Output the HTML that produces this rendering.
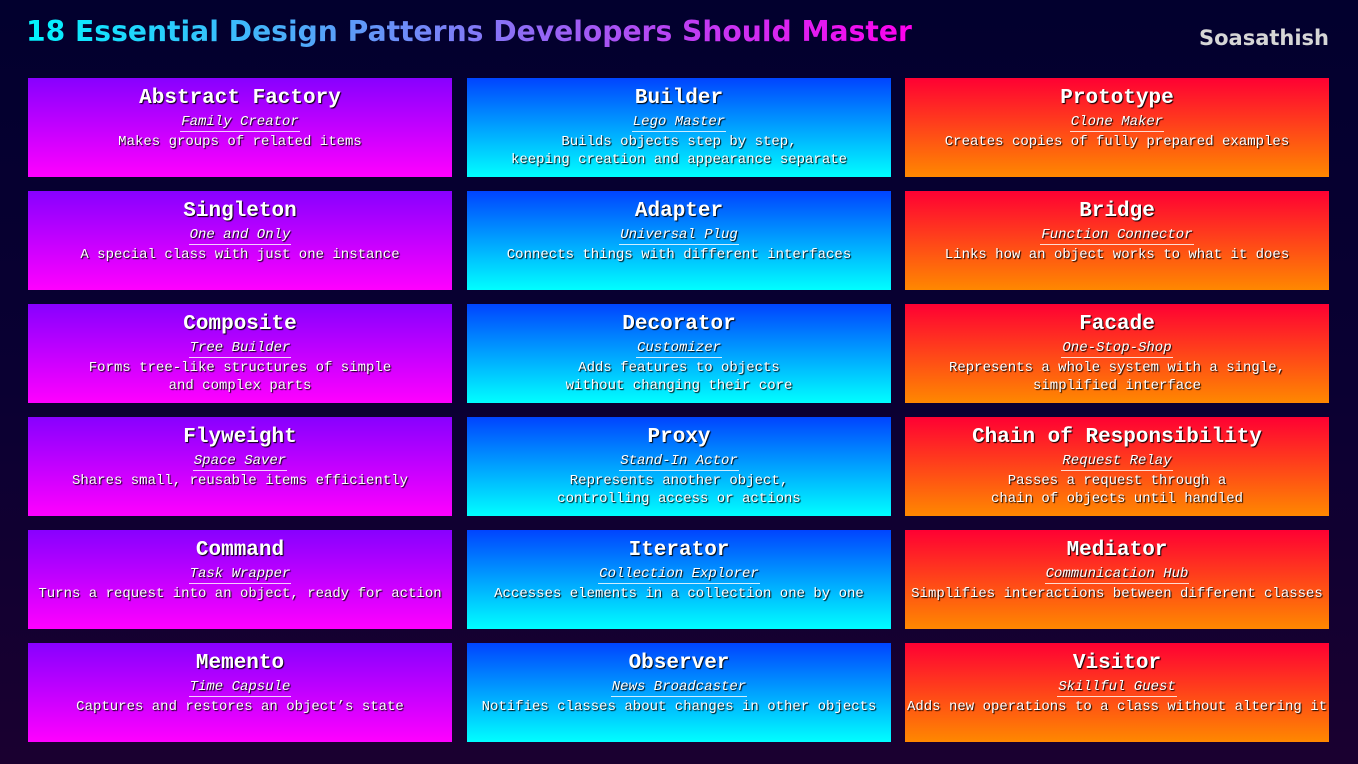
<!DOCTYPE html>
<html><head><meta charset="utf-8"><style>
body{margin:0;width:1358px;height:764px;overflow:hidden;background:linear-gradient(180deg,#02002e 0%,#0a0032 50%,#1a0030 100%);font-family:"Liberation Mono",monospace;position:relative}
h1{position:absolute;left:26px;top:15px;margin:0;font:bold 28.2px "DejaVu Sans",sans-serif;background:linear-gradient(90deg,#00f5ff,#ff00ee);-webkit-background-clip:text;background-clip:text;color:transparent;white-space:nowrap}
.brand{position:absolute;right:29px;top:26px;font:bold 21px "DejaVu Sans",sans-serif;color:#d6d6d6}
.b{position:absolute;width:424px;height:99px;color:#fff;text-align:center;text-shadow:1px 1px 1px #000}
.p{background:linear-gradient(180deg,#8800ff,#ff00ff)}
.u{background:linear-gradient(180deg,#0044ff,#00ffff)}
.r{background:linear-gradient(180deg,#ff0033,#ff8800)}
.t{font-weight:bold;font-size:21px;margin-top:8px;line-height:26px}
.s{font-style:italic;font-size:14px;line-height:17px;display:inline-block;border-bottom:1.5px solid rgba(255,255,255,.8);padding:0 1px;margin-top:1px}
.d{font-size:14px;line-height:18px;margin-top:1px;white-space:nowrap}
</style></head><body>
<h1>18 Essential Design Patterns Developers Should Master</h1>
<div class="brand">Soasathish</div>

<div class="b p" style="left:28px;top:78px"><div class="t">Abstract Factory</div><div class="s">Family Creator</div><div class="d">Makes groups of related items</div></div>
<div class="b u" style="left:467px;top:78px"><div class="t">Builder</div><div class="s">Lego Master</div><div class="d">Builds objects step by step,<br>keeping creation and appearance separate</div></div>
<div class="b r" style="left:905px;top:78px"><div class="t">Prototype</div><div class="s">Clone Maker</div><div class="d">Creates copies of fully prepared examples</div></div>

<div class="b p" style="left:28px;top:191px"><div class="t">Singleton</div><div class="s">One and Only</div><div class="d">A special class with just one instance</div></div>
<div class="b u" style="left:467px;top:191px"><div class="t">Adapter</div><div class="s">Universal Plug</div><div class="d">Connects things with different interfaces</div></div>
<div class="b r" style="left:905px;top:191px"><div class="t">Bridge</div><div class="s">Function Connector</div><div class="d">Links how an object works to what it does</div></div>

<div class="b p" style="left:28px;top:304px"><div class="t">Composite</div><div class="s">Tree Builder</div><div class="d">Forms tree-like structures of simple<br>and complex parts</div></div>
<div class="b u" style="left:467px;top:304px"><div class="t">Decorator</div><div class="s">Customizer</div><div class="d">Adds features to objects<br>without changing their core</div></div>
<div class="b r" style="left:905px;top:304px"><div class="t">Facade</div><div class="s">One-Stop-Shop</div><div class="d">Represents a whole system with a single,<br>simplified interface</div></div>

<div class="b p" style="left:28px;top:417px"><div class="t">Flyweight</div><div class="s">Space Saver</div><div class="d">Shares small, reusable items efficiently</div></div>
<div class="b u" style="left:467px;top:417px"><div class="t">Proxy</div><div class="s">Stand-In Actor</div><div class="d">Represents another object,<br>controlling access or actions</div></div>
<div class="b r" style="left:905px;top:417px"><div class="t">Chain of Responsibility</div><div class="s">Request Relay</div><div class="d">Passes a request through a<br>chain of objects until handled</div></div>

<div class="b p" style="left:28px;top:530px"><div class="t">Command</div><div class="s">Task Wrapper</div><div class="d">Turns a request into an object, ready for action</div></div>
<div class="b u" style="left:467px;top:530px"><div class="t">Iterator</div><div class="s">Collection Explorer</div><div class="d">Accesses elements in a collection one by one</div></div>
<div class="b r" style="left:905px;top:530px"><div class="t">Mediator</div><div class="s">Communication Hub</div><div class="d">Simplifies interactions between different classes</div></div>

<div class="b p" style="left:28px;top:643px"><div class="t">Memento</div><div class="s">Time Capsule</div><div class="d">Captures and restores an object’s state</div></div>
<div class="b u" style="left:467px;top:643px"><div class="t">Observer</div><div class="s">News Broadcaster</div><div class="d">Notifies classes about changes in other objects</div></div>
<div class="b r" style="left:905px;top:643px"><div class="t">Visitor</div><div class="s">Skillful Guest</div><div class="d">Adds new operations to a class without altering it</div></div>
</body></html>
